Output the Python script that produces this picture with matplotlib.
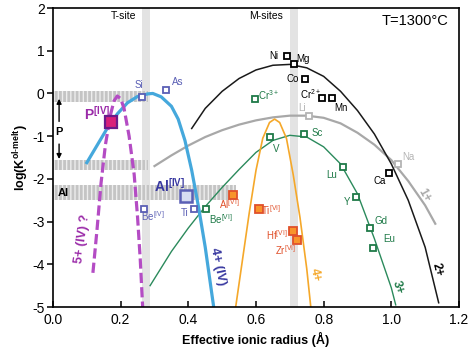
import matplotlib
matplotlib.use("Agg")
import matplotlib.pyplot as plt

plt.rcParams["font.family"] = ["Liberation Sans", "DejaVu Sans"]
plt.rcParams["mathtext.fontset"] = "custom"
plt.rcParams["mathtext.rm"] = "Liberation Sans"
plt.rcParams["mathtext.bf"] = "Liberation Sans:bold"
plt.rcParams["hatch.linewidth"] = 2.0
plt.rcParams["axes.unicode_minus"] = False

# ---------- curves (lattice strain fits) ----------
blue_r = [0.10, 0.13, 0.16, 0.19, 0.22, 0.25, 0.28, 0.295, 0.32, 0.35, 0.37, 0.39, 0.41, 0.43, 0.45, 0.475]
blue_k = [-1.62, -1.22, -0.82, -0.48, -0.22, -0.07, -0.01, 0.0, -0.08, -0.3, -0.6, -1.1, -1.8, -2.65, -3.6, -5.0]

purple_r = [0.118, 0.13, 0.142, 0.155, 0.17, 0.18, 0.19, 0.20, 0.21, 0.225, 0.24, 0.25, 0.258, 0.265]
purple_k = [-4.2, -3.2, -2.1, -1.2, -0.5, -0.18, -0.06, -0.12, -0.35, -1.0, -1.9, -2.9, -3.9, -5.0]

black_r = [0.41, 0.45, 0.50, 0.55, 0.60, 0.65, 0.70, 0.75, 0.80, 0.85, 0.90, 0.95, 1.00, 1.05, 1.10, 1.14]
black_k = [-0.82, -0.35, 0.05, 0.35, 0.55, 0.66, 0.68, 0.6, 0.4, 0.05, -0.4, -0.95, -1.65, -2.5, -3.6, -4.9]

gray_r = [0.30, 0.35, 0.40, 0.45, 0.50, 0.55, 0.60, 0.65, 0.70, 0.75, 0.80, 0.85, 0.90, 0.95, 1.00, 1.05, 1.10, 1.13]
gray_k = [-1.70, -1.45, -1.22, -1.02, -0.86, -0.73, -0.63, -0.56, -0.52, -0.52, -0.57, -0.70, -0.92, -1.2, -1.56, -2.05, -2.62, -3.05]

green_r = [0.287, 0.35, 0.40, 0.45, 0.50, 0.55, 0.60, 0.65, 0.70, 0.75, 0.80, 0.85, 0.90, 0.95, 1.00, 1.013]
green_k = [-4.5, -3.7, -3.15, -2.65, -2.2, -1.78, -1.38, -1.1, -0.98, -1.02, -1.25, -1.65, -2.35, -3.4, -4.55, -4.95]

orange_r = [0.54, 0.56, 0.58, 0.60, 0.62, 0.64, 0.655, 0.67, 0.69, 0.71, 0.73, 0.75, 0.762]
orange_k = [-5.0, -3.9, -2.8, -1.8, -1.05, -0.68, -0.6, -0.68, -1.05, -1.9, -2.9, -4.1, -5.0]

# ---------- measured partition coefficients ----------
tsite_names = ["Si", "As", "Be[IV]", "Ti"]
tsite_r = [0.263, 0.335, 0.268, 0.417]
tsite_k = [-0.09, 0.08, -2.71, -2.71]

green_names = ["Be[VI]", "Cr3+", "V", "Sc", "Lu", "Y", "Gd", "Eu"]
green_pr = [0.451, 0.598, 0.642, 0.743, 0.858, 0.897, 0.936, 0.946]
green_pk = [-2.71, -0.12, -1.02, -0.94, -1.73, -2.42, -3.15, -3.61]

black_names = ["Ni", "Mg", "Co", "Cr2+", "Mn", "Ca"]
black_pr = [0.691, 0.711, 0.745, 0.796, 0.826, 0.993]
black_pk = [0.87, 0.68, 0.35, -0.10, -0.10, -1.87]

alkali_names = ["Li", "Na"]
alkali_r = [0.757, 1.02]
alkali_k = [-0.53, -1.64]

hfse_names = ["Al[VI]", "Ti[VI]", "Hf[VI]", "Zr[VI]"]
hfse_r = [0.532, 0.608, 0.709, 0.721]
hfse_k = [-2.38, -2.71, -3.23, -3.42]

p_iv = (0.170, -0.66)
al_iv = (0.392, -2.40)

c_blue = "#45a8dc"
c_purple = "#b44cc4"
c_purple_txt = "#9a2aa8"
c_slate = "#5a5fb5"
c_navy = "#3838a0"
c_green = "#2b8a5c"
c_green_txt = "#1f7a48"
c_orange = "#f5a82a"
c_red = "#e0502a"
c_gray = "#a8a8a8"
c_lgray = "#b4b4b4"

fig = plt.figure(figsize=(4.74, 3.49), dpi=100)
ax = fig.add_axes([0.1118, 0.1203, 0.8565, 0.8567])

# site bands and hatched ranges
ax.axvspan(0.262, 0.288, color="#e3e3e3", lw=0, zorder=0)
ax.axvspan(0.701, 0.724, color="#e3e3e3", lw=0, zorder=0)
for x1, y0, y1 in [(0.28, 0.06, -0.2), (0.28, -1.56, -1.8), (0.54, -2.15, -2.5)]:
    ax.fill_between([0, x1], y0, y1, facecolor="#ededed", edgecolor="#c4c4c4",
                    hatch="||||", lw=0, zorder=0.5)

# curves
ax.plot(gray_r, gray_k, color=c_gray, lw=1.6, zorder=2)
ax.plot(black_r, black_k, color="#1a1a1a", lw=1.1, zorder=2)
ax.plot(green_r, green_k, color=c_green, lw=1.0, zorder=2)
ax.plot(orange_r, orange_k, color=c_orange, lw=1.2, zorder=2)
ax.plot(blue_r, blue_k, color=c_blue, lw=2.3, zorder=2)
ax.plot(purple_r, purple_k, color=c_purple, lw=2.3, dashes=(3.2, 1.3), zorder=2)

ms = 4.6
mk = dict(marker="s", ls="none", ms=ms, mew=1.3, mfc="white", zorder=4)
ax.plot(tsite_r, tsite_k, mec=c_slate, **mk)
ax.plot(green_pr, green_pk, mec=c_green_txt, **mk)
ax.plot(black_pr, black_pk, mec="black", **mk)
ax.plot(alkali_r, alkali_k, mec=c_lgray, **mk)
ax.plot(hfse_r, hfse_k, marker="s", ls="none", ms=ms + 0.5, mew=1.3, mfc="#f8942a", mec=c_red, zorder=4)
ax.plot(*p_iv, marker="s", ms=9, mew=1.6, mfc="#d8207a", mec="#6a1a8a", zorder=5)
ax.plot(*al_iv, marker="s", ms=8, mew=1.8, mfc="#d6dcf2", mec=c_slate, zorder=5)

# point labels
fs = 7.0
sup = lambda s, t: s + r"$^{\mathrm{" + t + "}}$"
labels = [
    (0.255, 0.19, "Si", c_slate, "center"),
    (0.368, 0.27, "As", c_slate, "center"),
    (0.296, -2.87, sup("Be", "[IV]"), c_slate, "center"),
    (0.39, -2.80, "Ti", c_slate, "center"),
    (0.495, -2.93, sup("Be", "[VI]"), c_green_txt, "center"),
    (0.638, -0.05, sup("Cr", "3+"), c_green_txt, "center"),
    (0.66, -1.29, "V", c_green_txt, "center"),
    (0.78, -0.92, "Sc", c_green_txt, "center"),
    (0.824, -1.90, "Lu", c_green_txt, "center"),
    (0.868, -2.54, "Y", c_green_txt, "center"),
    (0.97, -2.98, "Gd", c_green_txt, "center"),
    (0.995, -3.40, "Eu", c_green_txt, "center"),
    (0.652, 0.87, "Ni", "black", "center"),
    (0.738, 0.80, "Mg", "black", "center"),
    (0.709, 0.33, "Co", "black", "center"),
    (0.762, -0.02, sup("Cr", "2+"), "black", "center"),
    (0.85, -0.33, "Mn", "black", "center"),
    (0.966, -2.05, "Ca", "black", "center"),
    (0.735, -0.34, "Li", c_lgray, "center"),
    (1.05, -1.48, "Na", c_lgray, "center"),
    (0.522, -2.58, sup("Al", "[VI]"), c_red, "center"),
    (0.645, -2.73, sup("Ti", "[VI]"), c_red, "center"),
    (0.662, -3.32, sup("Hf", "[VI]"), c_red, "center"),
    (0.688, -3.67, sup("Zr", "[VI]"), c_red, "center"),
]
for x, y, s, c, ha in labels:
    ax.text(x, y, s, color=c, fontsize=fs, ha=ha, va="center", zorder=6)

ax.text(0.132, -0.47, r"P$^{\mathbf{[IV]}}$", color=c_purple_txt, fontsize=10,
        fontweight="bold", ha="center", va="center")
ax.text(0.345, -2.16, r"Al$^{\mathbf{[IV]}}$", color=c_navy, fontsize=10,
        fontweight="bold", ha="center", va="center")

# curve labels
ax.text(0.088, -3.4, "5+ (IV) ?", color=c_purple_txt, fontsize=9, fontweight="bold",
        rotation=82, ha="center", va="center")
ax.text(0.487, -4.06, "4+ (IV)", color=c_navy, fontsize=9, fontweight="bold",
        rotation=-78, ha="center", va="center")
ax.text(0.776, -4.25, "4+", color=c_orange, fontsize=8.5, fontweight="bold",
        rotation=-78, ha="center", va="center")
ax.text(1.02, -4.53, "3+", color=c_green_txt, fontsize=8.5, fontweight="bold",
        rotation=-72, ha="center", va="center")
ax.text(1.137, -4.13, "2+", color="black", fontsize=8.5, fontweight="bold",
        rotation=-75, ha="center", va="center")
ax.text(1.098, -2.38, "1+", color=c_gray, fontsize=8.5, fontweight="bold",
        rotation=-60, ha="center", va="center")

# site annotations
ax.text(0.21, 1.81, "T-site", fontsize=7.5, ha="center", va="center")
ax.text(0.63, 1.81, "M-sites", fontsize=7.5, ha="center", va="center")
ax.text(1.07, 1.70, "T=1300°C", fontsize=10.5, ha="center", va="center")

ax.annotate("", xy=(0.018, -0.06), xytext=(0.018, -0.72),
            arrowprops=dict(arrowstyle="-|>", color="black", lw=1.0, mutation_scale=7))
ax.annotate("", xy=(0.018, -1.6), xytext=(0.018, -1.12),
            arrowprops=dict(arrowstyle="-|>", color="black", lw=1.0, mutation_scale=7))
ax.text(0.018, -0.9, "P", fontsize=8, fontweight="bold", ha="center", va="center")
ax.text(0.03, -2.34, "Al", fontsize=8, fontweight="bold", ha="center", va="center")

ax.set_xlim(0, 1.2)
ax.set_ylim(-5, 2)
ax.set_xticks([0.0, 0.2, 0.4, 0.6, 0.8, 1.0, 1.2])
ax.set_xticklabels(["0.0", "0.2", "0.4", "0.6", "0.8", "1.0", "1.2"])
ax.set_yticks(range(-5, 3))
ax.tick_params(axis="x", direction="in", length=4, width=1.1, labelsize=10, pad=4)
ax.tick_params(axis="y", direction="out", length=4, width=1.1, labelsize=10, pad=2)
for sp in ax.spines.values():
    sp.set_linewidth(1.2)

ax.set_xlabel("Effective ionic radius (Å)", fontsize=9, fontweight="bold", labelpad=4)
ax.set_ylabel(r"log(K$^{\mathbf{ol\text{-}melt}}$)", fontsize=9, fontweight="bold", labelpad=1)

fig.savefig("out.png", dpi=100)
